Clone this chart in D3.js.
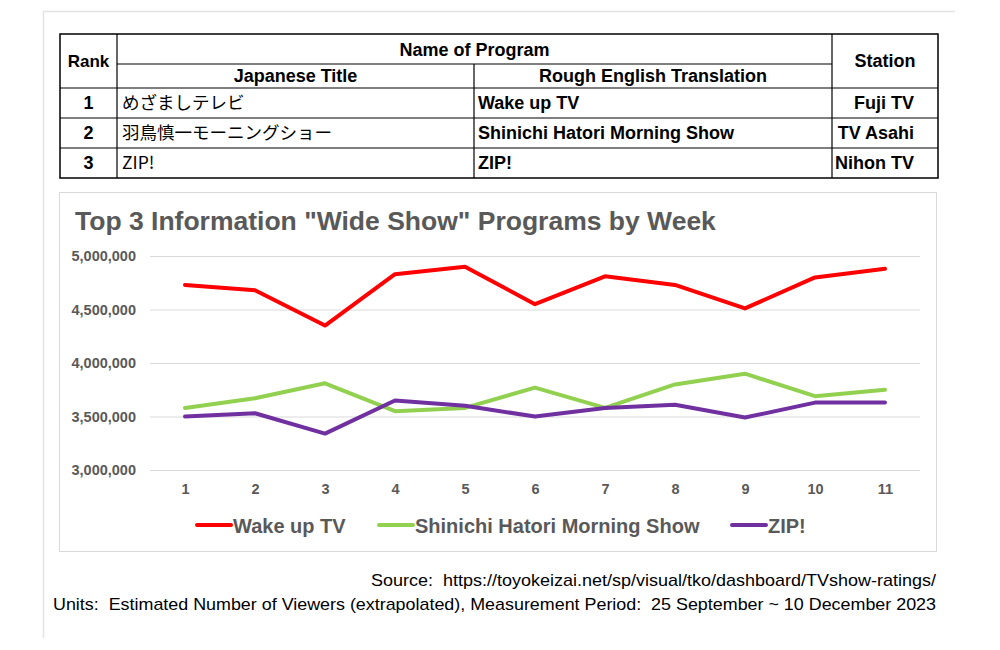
<!DOCTYPE html>
<html>
<head>
<meta charset="utf-8">
<script src="https://cdn.jsdelivr.net/npm/d3@7"></script>
<style>
  body { margin: 0; background: #fff; }
  svg { display: block; font-family: "Liberation Sans", Arial, sans-serif; }
</style>
</head>
<body>
<div id="container"></div>
<script>
/* DATA */
const weeks = [1, 2, 3, 4, 5, 6, 7, 8, 9, 10, 11];
const wakeUpTV = [4730000, 4680000, 4350000, 4830000, 4900000, 4550000, 4810000, 4730000, 4510000, 4800000, 4880000];
const hatoriShow = [3580000, 3670000, 3810000, 3550000, 3580000, 3770000, 3580000, 3800000, 3900000, 3690000, 3750000];
const zip = [3500000, 3530000, 3340000, 3650000, 3600000, 3500000, 3580000, 3610000, 3490000, 3630000, 3630000];
const seriesNames = ["Wake up TV", "Shinichi Hatori Morning Show", "ZIP!"];
const seriesColors = ["#ff0000", "#92d050", "#7030a0"];
const yTicks = [3000000, 3500000, 4000000, 4500000, 5000000];

const ranks = ["1", "2", "3"];
const japaneseTitles = ["めざましテレビ", "羽鳥慎一モーニングショー", "ZIP!"];
const englishTitles = ["Wake up TV", "Shinichi Hatori Morning Show", "ZIP!"];
const stations = ["Fuji TV", "TV Asahi", "Nihon TV"];

const W = 1000, H = 650;
const svg = d3.select("#container").append("svg")
  .attr("width", W).attr("height", H);

// outer page frame (top and left only)
svg.append("line").attr("x1", 43).attr("x2", 955).attr("y1", 11.5).attr("y2", 11.5)
  .attr("stroke", "#e3e3e3").attr("stroke-width", 1.5);
svg.append("line").attr("x1", 43.5).attr("x2", 43.5).attr("y1", 11).attr("y2", 638)
  .attr("stroke", "#e3e3e3").attr("stroke-width", 1.5);

/* TABLE */
const colX = [60, 117, 474, 832, 938];
const rowY = [34, 64, 88, 118, 148, 178];
const tbl = svg.append("g");
const ink = "#000";

// cell lines
tbl.append("rect").attr("x", colX[0]).attr("y", rowY[0])
  .attr("width", colX[4] - colX[0]).attr("height", rowY[5] - rowY[0])
  .attr("fill", "none").attr("stroke", ink).attr("stroke-width", 1.5);
[colX[1], colX[3]].forEach(x => tbl.append("line")
  .attr("x1", x).attr("x2", x).attr("y1", rowY[0]).attr("y2", rowY[5])
  .attr("stroke", ink).attr("stroke-width", 1.2));
tbl.append("line").attr("x1", colX[2]).attr("x2", colX[2]).attr("y1", rowY[1]).attr("y2", rowY[5])
  .attr("stroke", ink).attr("stroke-width", 1.2);
tbl.append("line").attr("x1", colX[1]).attr("x2", colX[3]).attr("y1", rowY[1]).attr("y2", rowY[1])
  .attr("stroke", ink).attr("stroke-width", 1.2);
rowY.slice(2, 5).forEach(y => tbl.append("line")
  .attr("x1", colX[0]).attr("x2", colX[4]).attr("y1", y).attr("y2", y)
  .attr("stroke", ink).attr("stroke-width", 1.2));

function cellText(x, y, txt, anchor, bold, size, family) {
  tbl.append("text").attr("x", x).attr("y", y)
    .attr("text-anchor", anchor)
    .style("font-weight", bold ? "bold" : "normal")
    .style("font-size", size + "px")
    .style("font-family", family || null)
    .attr("fill", "#000")
    .text(txt);
}
cellText((colX[0] + colX[1]) / 2, 67, "Rank", "middle", true, 17);
cellText((colX[1] + colX[3]) / 2, 56, "Name of Program", "middle", true, 18);
cellText((colX[1] + colX[2]) / 2, 82, "Japanese Title", "middle", true, 18);
cellText((colX[2] + colX[3]) / 2, 82, "Rough English Translation", "middle", true, 18);
cellText((colX[3] + colX[4]) / 2, 67, "Station", "middle", true, 18);

ranks.forEach((r, i) => {
  const base = rowY[i + 2] + 21;
  cellText((colX[0] + colX[1]) / 2, base, r, "middle", true, 18);
  cellText(colX[1] + 5, base, japaneseTitles[i], "start", false, 17.5,
    "'Noto Sans CJK JP', 'Liberation Sans', sans-serif");
  cellText(colX[2] + 4, base, englishTitles[i], "start", true, 18);
  cellText(914, base, stations[i], "end", true, 18);
});

/* CHART BOX */
svg.append("rect").attr("x", 59.5).attr("y", 192.5).attr("width", 877).attr("height", 359)
  .attr("fill", "#fff").attr("stroke", "#d9d9d9").attr("stroke-width", 1);

svg.append("text").attr("x", 75).attr("y", 230)
  .style("font-weight", "bold").style("font-size", "26.5px")
  .attr("fill", "#595959")
  .text('Top 3 Information "Wide Show" Programs by Week');

/* SCALES */
const xScale = d3.scalePoint().domain(weeks).range([150, 920]).padding(0.5);
const yScale = d3.scaleLinear().domain([3000000, 5000000]).range([470, 256]);

// gridlines
svg.append("g").selectAll("line").data(yTicks).join("line")
  .attr("x1", 150).attr("x2", 920)
  .attr("y1", d => yScale(d) + 0.5).attr("y2", d => yScale(d) + 0.5)
  .attr("stroke", "#d9d9d9").attr("stroke-width", 1);

// y axis labels
const yAxis = svg.append("g").attr("transform", "translate(136,0)")
  .call(d3.axisLeft(yScale).tickValues(yTicks).tickSize(0).tickPadding(0)
    .tickFormat(d3.format(",")));
yAxis.select(".domain").remove();
yAxis.selectAll("text").attr("fill", "#595959")
  .style("font-size", "14.5px").style("font-weight", "bold")
  .style("font-family", "'Liberation Sans', Arial, sans-serif");

// x axis labels
const xAxis = svg.append("g").attr("transform", "translate(0,480)")
  .call(d3.axisBottom(xScale).tickSize(0).tickPadding(4));
xAxis.select(".domain").remove();
xAxis.selectAll("text").attr("fill", "#595959")
  .style("font-size", "14.5px").style("font-weight", "bold")
  .style("font-family", "'Liberation Sans', Arial, sans-serif");

/* LINES */
const allSeries = [wakeUpTV, hatoriShow, zip];
const line = d3.line().x((d, i) => xScale(weeks[i])).y(d => yScale(d));
svg.append("g").selectAll("path").data(allSeries).join("path")
  .attr("d", line)
  .attr("fill", "none")
  .attr("stroke", (d, i) => seriesColors[i])
  .attr("stroke-width", 4)
  .attr("stroke-linejoin", "round")
  .attr("stroke-linecap", "round");

/* LEGEND */
const legendX = [197, 379, 732];
const legend = svg.append("g").selectAll("g").data(seriesNames).join("g")
  .attr("transform", (d, i) => "translate(" + legendX[i] + ",525)");
legend.append("line").attr("x1", 0).attr("x2", 34).attr("y1", 0).attr("y2", 0)
  .attr("stroke", (d, i) => seriesColors[i]).attr("stroke-width", 4)
  .attr("stroke-linecap", "round");
legend.append("text").attr("x", 36).attr("y", 8)
  .style("font-size", "20px").style("font-weight", "bold")
  .attr("fill", "#595959")
  .text(d => d);

/* FOOTER */
svg.append("text").attr("x", 936).attr("y", 586)
  .attr("text-anchor", "end")
  .style("white-space", "pre")
  .attr("textLength", 565).attr("lengthAdjust", "spacingAndGlyphs")
  .style("font-size", "17px").attr("fill", "#000")
  .text("Source:  https://toyokeizai.net/sp/visual/tko/dashboard/TVshow-ratings/");
svg.append("text").attr("x", 936).attr("y", 610)
  .attr("text-anchor", "end")
  .style("white-space", "pre")
  .attr("textLength", 883).attr("lengthAdjust", "spacingAndGlyphs")
  .style("font-size", "17px").attr("fill", "#000")
  .text("Units:  Estimated Number of Viewers (extrapolated), Measurement Period:  25 September ~ 10 December 2023");
</script>
</body>
</html>
